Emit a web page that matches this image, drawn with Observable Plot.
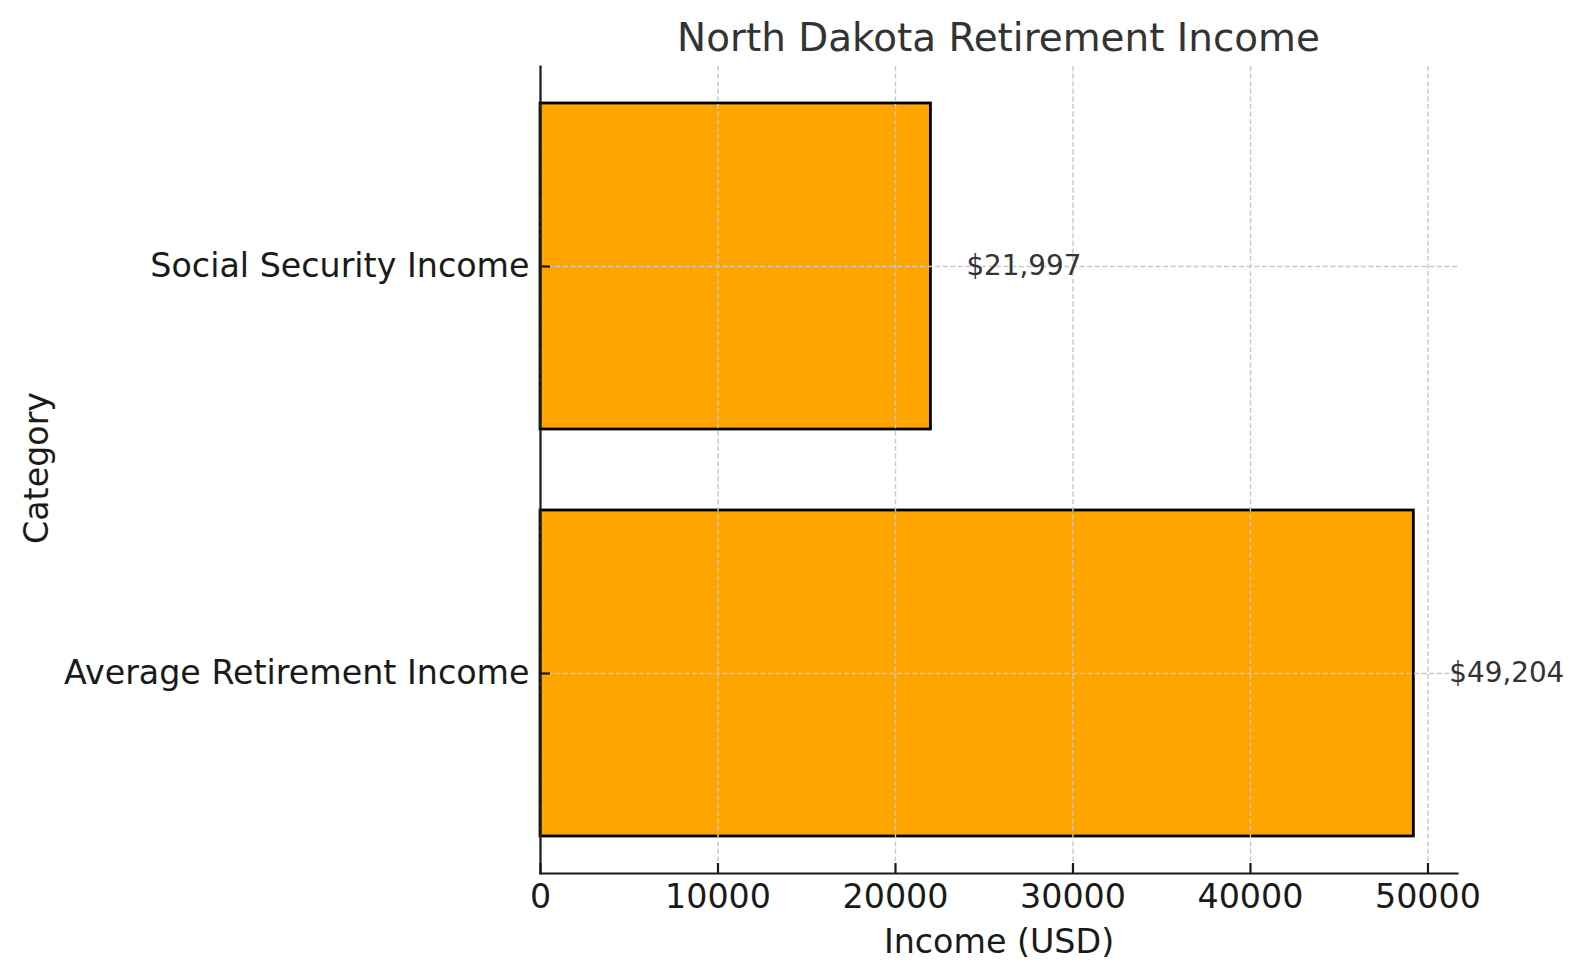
<!DOCTYPE html>
<html>
<head>
<meta charset="utf-8">
<script src="https://cdn.jsdelivr.net/npm/d3@7"></script>
<script src="https://cdn.jsdelivr.net/npm/@observablehq/plot@0.6"></script>
<style>
  html, body { margin: 0; padding: 0; background: #fff; }
  #wrap { position: relative; width: 1582px; font-family: "DejaVu Sans", sans-serif; }
  #titlebox { position: relative; width: 1582px; height: 60px; }
  #title { position: absolute; top: 19px; left: 540px; width: 917px; text-align: center;
           font-size: 38.9px; line-height: 1; color: #333; white-space: nowrap; }
</style>
</head>
<body>
<div id="wrap">
  <div id="titlebox"><div id="title"></div></div>
  <div id="chart"></div>
</div>
<script>
const title = "North Dakota Retirement Income";
const xLabel = "Income (USD)";
const yLabel = "Category";
const categories = ["Social Security Income", "Average Retirement Income"];
const values = [21997, 49204];
const valueLabels = ["$21,997", "$49,204"];
const xTicks = [0, 10000, 20000, 30000, 40000, 50000];

document.getElementById("title").textContent = title;

const data = categories.map((c, i) => ({category: c, value: values[i], label: valueLabels[i]}));
const xMax = d3.max(values) * 1.05;

const W = 1582, H = 920;
const mL = 540, mR = 125, mT = 6, mB = 107;
const frameW = W - mL - mR, frameH = H - mT - mB;

const gridStyle = {stroke: "#c8c8c8", strokeOpacity: 1, strokeWidth: 1.4, strokeDasharray: "5,2.6"};

const chart = Plot.plot({
  width: W, height: H,
  marginLeft: mL, marginRight: mR, marginTop: mT, marginBottom: mB,
  style: {fontFamily: "DejaVu Sans", fontSize: "33.3px", color: "#1a1a1a", background: "white"},
  x: {domain: [0, xMax]},
  y: {domain: categories, paddingInner: 0.2, paddingOuter: 0.09},
  marks: [
    Plot.barX(data, {y: "category", x: "value", fill: "#FFA500", stroke: "#000", strokeWidth: 2.8}),
    Plot.gridX(xTicks, gridStyle),
    Plot.gridY(categories, gridStyle),
    Plot.ruleX(xTicks, {x: d => d, insetTop: frameH - 10, stroke: "#1a1a1a", strokeWidth: 2.2}),
    Plot.ruleY(categories, {y: d => d, insetRight: frameW - 10, stroke: "#1a1a1a", strokeWidth: 2.2}),
    Plot.frame({anchor: "left", stroke: "#1a1a1a", strokeWidth: 2.2}),
    Plot.frame({anchor: "bottom", stroke: "#1a1a1a", strokeWidth: 2.2}),
    Plot.axisX(xTicks, {tickSize: 0, tickPadding: 11, tickFormat: d3.format("d"), label: null, fontSize: 33.3}),
    Plot.axisY({tickSize: 0, tickPadding: 11, label: null, fontSize: 33.3}),
    Plot.text(data, {y: "category", x: d => d.value + 2000, text: "label", textAnchor: "start",
                     lineAnchor: "middle", fontSize: 27.8, fill: "#333"}),
    Plot.text([xLabel], {frameAnchor: "bottom", dy: 79, textAnchor: "middle", lineAnchor: "bottom",
                         fontSize: 33.3, fill: "#1a1a1a"}),
    Plot.text([yLabel], {frameAnchor: "left", dx: -493, dy: -2, rotate: -90, textAnchor: "middle",
                         lineAnchor: "bottom", fontSize: 33.3, fill: "#1a1a1a"})
  ]
});
document.getElementById("chart").appendChild(chart);
</script>
</body>
</html>
